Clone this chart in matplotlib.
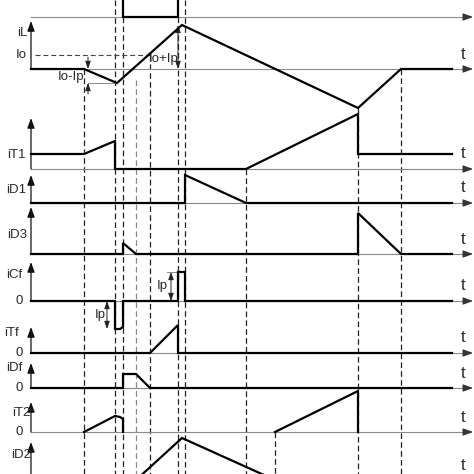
import numpy as np
import matplotlib
matplotlib.use("Agg")
import matplotlib.pyplot as plt

plt.rcParams['font.family'] = ['Liberation Sans', 'DejaVu Sans']

# switching instants (dashed guide lines)
t_marks = [84, 115, 123, 136, 150, 178, 185, 246, 275, 358, 401]

# trace names, top to bottom (first one is cut off in the source)
names = ['', 'iL', 'iT1', 'iD1', 'iD3', 'iCf', 'iTf', 'iDf', 'iT2', 'iD2']
zero_marked = ['iCf', 'iTf', 'iDf', 'iT2']

# waveform breakpoints: time, level above the trace zero line
gate_t = [0, 123, 123, 178, 178, 474]
gate_v = [40, 40, 0, 0, 40, 40]
iL_t = [31, 84, 117, 182, 358, 401, 452]
iL_v = [0, 0, -14, 44, -39, 0, 0]
iT1_t = [31, 84, 115, 115, 246, 358, 358, 452]
iT1_v = [15, 15, 28, 0, 0, 55, 15, 15]
iD1_t = [31, 185, 185, 246, 452]
iD1_v = [0, 0, 28, 0, 0]
iD3_t = [31, 123, 123, 136, 358, 358, 401, 452]
iD3_v = [0, 0, 11, 0, 0, 41, 0, 0]
iCf_t = [31, 115, 115, 120, 123, 123, 178, 178, 185, 185, 452]
iCf_v = [0, 0, -28, -28, -26, 0, 0, 29, 29, 0, 0]
iTf_t = [31, 150, 178, 178, 452]
iTf_v = [0, 0, 28, 0, 0]
iDf_t = [31, 123, 123, 136, 150, 452]
iDf_v = [0, 0, 14, 14, 0, 0]
iT2_t = [84, 115, 120, 123, 123, np.nan, 275, 358, 358]
iT2_v = [0, 16, 15, 13, 0, np.nan, 0, 41, 0]
iD2_t = [31, 136, 182, 275, 452]
iD2_v = [0, 0, 42, 0, 0]

# levels marked on the iL and iCf traces
Io = 14
Ip = 14
Ip_cf = 28

waves = [(gate_t, gate_v), (iL_t, iL_v), (iT1_t, iT1_v), (iD1_t, iD1_v),
         (iD3_t, iD3_v), (iCf_t, iCf_v), (iTf_t, iTf_v), (iDf_t, iDf_v),
         (iT2_t, iT2_v), (iD2_t, iD2_v)]

# layout (pixel rows of each zero line, axis tip, label position)
zero_y = [17, 69, 169, 203, 254, 301, 353, 388, 432, 480]
tip_y = [-20, 21, 118, 175, 207, 262, 327, 363, 402, 442]
label_xy = [(0, 0), (22, 33), (16, 155), (16, 190), (17, 235), (14, 275),
            (12, 333), (14, 368), (21, 413), (21, 455)]
guide_top = [69, 0, 17, 80, 55, 17, 0, 169, 432, 108, 69]
x0, x_end, x_arrow = 31, 452, 473

fig = plt.figure(figsize=(4.74, 4.74), dpi=100)
ax = fig.add_axes([0, 0, 1, 1])
ax.set_xlim(0, 474)
ax.set_ylim(474, 0)
ax.axis('off')

head = '-|>,head_length=0.6,head_width=0.22'
small = '-|>,head_length=0.45,head_width=0.16'
both = '<|-|>,head_length=0.45,head_width=0.16'
fs = 9.5
tc = '#2a2a2a'

# dashed guides
for t, top in zip(t_marks, guide_top):
    c = '#888888' if t == 136 else '#222222'
    ax.plot([t, t], [top, 474], color=c, lw=0.9, ls=(0, (4.5, 2.6)), zorder=1)

for i, name in enumerate(names):
    y0 = zero_y[i]
    # time axis
    ax.plot([x0, x_arrow - 6], [y0, y0], color='#8a8a8a', lw=0.8, zorder=2)
    ax.annotate('', xy=(x_arrow, y0), xytext=(x_arrow - 8, y0),
                arrowprops=dict(arrowstyle=head, color='#333333', lw=0.8,
                                shrinkA=0, shrinkB=0))
    # amplitude axis
    ax.annotate('', xy=(x0, tip_y[i]), xytext=(x0, y0),
                arrowprops=dict(arrowstyle=head, color='#111111', lw=0.9,
                                shrinkA=0, shrinkB=0), zorder=3)
    t, v = waves[i]
    ax.plot(t, y0 - np.array(v, dtype=float), color='black', lw=1.6,
            solid_joinstyle='miter', zorder=4)
    if name:
        ax.text(*label_xy[i], name, fontsize=fs, color=tc,
                ha='center', va='center')
        ax.text(463, y0 - 15, 't', fontsize=12, color=tc,
                ha='center', va='center')
    if name in zero_marked:
        ax.text(19, y0, '0', fontsize=fs, color=tc, ha='center', va='center')

# iL annotations
yL = zero_y[1]
ax.plot([35, 150], [yL - Io, yL - Io], color='#444444', lw=0.8,
        ls=(0, (4.5, 2.6)), zorder=2)
ax.text(21, yL - Io, 'Io', fontsize=fs, color=tc, ha='center', va='center')
ax.plot([88, 117], [yL + Ip, yL + Ip], color='#8a8a8a', lw=0.7, zorder=2)
ax.annotate('', xy=(88, yL), xytext=(88, yL - 12),
            arrowprops=dict(arrowstyle=small, color='#222222', lw=0.7,
                            shrinkA=0, shrinkB=0))
ax.annotate('', xy=(88, yL + Ip), xytext=(88, yL + Ip + 11),
            arrowprops=dict(arrowstyle=small, color='#222222', lw=0.7,
                            shrinkA=0, shrinkB=0))
ax.text(71, yL + 8, 'Io-Ip', fontsize=fs, color=tc, ha='center', va='center')
ax.annotate('', xy=(178, yL - 44), xytext=(178, yL),
            arrowprops=dict(arrowstyle=both, color='#222222', lw=0.7,
                            shrinkA=0, shrinkB=0))
ax.text(164, yL - 10, 'Io+Ip', fontsize=fs, color=tc, ha='center', va='center')

# iCf annotations
yC = zero_y[5]
ax.annotate('', xy=(107, yC + Ip_cf), xytext=(107, yC),
            arrowprops=dict(arrowstyle=both, color='#222222', lw=0.7,
                            shrinkA=0, shrinkB=0))
ax.text(100, yC + 14, 'Ip', fontsize=fs, color=tc, ha='center', va='center')
ax.annotate('', xy=(171, yC - 29), xytext=(171, yC),
            arrowprops=dict(arrowstyle=both, color='#222222', lw=0.7,
                            shrinkA=0, shrinkB=0))
ax.plot([167, 178], [yC - 29, yC - 29], color='#8a8a8a', lw=0.7)
ax.text(162, yC - 15, 'Ip', fontsize=fs, color=tc, ha='center', va='center')

fig.savefig('out.png', dpi=100)
